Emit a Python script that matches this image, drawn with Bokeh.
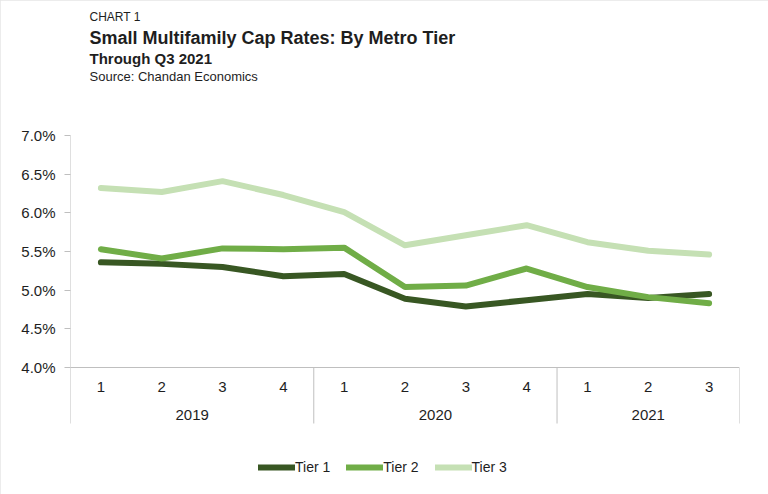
from bokeh.plotting import figure
from bokeh.models import (FactorRange, Range1d, FixedTicker, PrintfTickFormatter,
                          Legend, LegendItem, Title, ColumnDataSource, Span)
from bokeh.core.properties import value
from bokeh.embed import file_html
from bokeh.resources import INLINE

# data (cap rate, %)
years = ["2019", "2020", "2021"]
quarters = [["1", "2", "3", "4"], ["1", "2", "3", "4"], ["1", "2", "3"]]
tier1 = [5.36, 5.34, 5.30, 5.18, 5.21, 4.89, 4.79, 4.87, 4.95, 4.90, 4.95]
tier2 = [5.53, 5.41, 5.54, 5.53, 5.55, 5.04, 5.06, 5.28, 5.04, 4.91, 4.83]
tier3 = [6.32, 6.27, 6.41, 6.23, 6.01, 5.58, 5.71, 5.84, 5.62, 5.51, 5.46]
series_names = ["Tier 1", "Tier 2", "Tier 3"]
colors = ["#385723", "#70ad47", "#c5e0b4"]
y_ticks = [4.0, 4.5, 5.0, 5.5, 6.0, 6.5, 7.0]

FONT = "Liberation Sans"
GREY = "#bfbfbf"
TXT = "#1e1e1e"

factors = [(y, q) for y, qs in zip(years, quarters) for q in qs]
src = ColumnDataSource(dict(x=factors, t1=tier1, t2=tier2, t3=tier3))

# layout: 7.0% .. 4.0% spans 232 px, axis-label band below reaches 56 px further
FRAME_H = 355
px_per = 232 / (y_ticks[-1] - y_ticks[0])
y_lo = y_ticks[-1] - FRAME_H / px_per
sep_bottom = y_ticks[0] - 56 / px_per

p = figure(frame_width=669, frame_height=FRAME_H, output_backend="svg", toolbar_location=None,
           x_range=FactorRange(*factors, factor_padding=0, group_padding=0,
                               subgroup_padding=0, range_padding=0),
           y_range=Range1d(y_lo, y_ticks[-1]), x_axis_location=None,
           min_border_left=70, min_border_right=29, min_border_top=135,
           min_border_bottom=4,
           styles={"outline": "2px solid #e6e6e6", "outline-offset": "-2px"})
p.outline_line_color = None
p.xgrid.visible = False
p.ygrid.visible = False

# titles, stacked upward from the plot (the first one is an empty spacer)
for txt, size, style, so in [(" ", "13px", "normal", 35),
                             ("Source: Chandan Economics", "13px", "normal", 0),
                             ("Through Q3 2021", "15px", "bold", 0),
                             ("Small Multifamily Cap Rates: By Metro Tier", "18px", "bold", 0),
                             ("CHART 1", "12px", "normal", 4)]:
    p.add_layout(Title(text=txt, text_font=FONT, text_font_size=size,
                       text_font_style=style, text_color=TXT, align="left",
                       offset=19, standoff=so), "above")

# y axis (its line is drawn below as a segment so it runs down through the label band)
ya = p.yaxis[0]
ya.ticker = FixedTicker(ticks=y_ticks)
ya.formatter = PrintfTickFormatter(format="%.1f%%")
ya.axis_line_color = None
ya.major_tick_line_color = GREY
ya.major_tick_out = 6
ya.major_tick_in = 0
ya.minor_tick_line_color = None
ya.major_label_standoff = 9
ya.major_label_text_font = FONT
ya.major_label_text_font_size = "15px"
ya.major_label_text_color = TXT

# category axis: baseline at 4.0%, quarter and year labels, year separators
p.add_layout(Span(location=y_ticks[0], dimension="width", line_color=GREY, line_width=1))
bounds = [0]
for qs in quarters:
    bounds.append(bounds[-1] + len(qs))
p.segment(x0=bounds, y0=[y_ticks[-1]] + [y_ticks[0]] * (len(bounds) - 1), x1=bounds,
          y1=[sep_bottom] * len(bounds), line_color=GREY, line_width=1)

p.text(x=factors, y=[y_ticks[0]] * len(factors), text=[q for _, q in factors],
       y_offset=19, text_align="center", text_baseline="middle",
       text_font=value(FONT), text_font_size="15px", text_color=TXT)
year_mid = [(a + b) / 2 for a, b in zip(bounds[:-1], bounds[1:])]
p.text(x=year_mid, y=[y_ticks[0]] * len(years), text=years,
       y_offset=47, text_align="center", text_baseline="middle",
       text_font=value(FONT), text_font_size="15px", text_color=TXT)

renderers = []
for col, c in zip(["t1", "t2", "t3"], colors):
    r = p.line("x", col, source=src, line_color=c, line_width=6, line_cap="round",
               line_join="round")
    renderers.append(r)

legend = Legend(items=[LegendItem(label=n, renderers=[r]) for n, r in zip(series_names, renderers)],
                orientation="horizontal", location=(188, 15), glyph_width=37, glyph_height=16,
                label_standoff=0, spacing=16, padding=0, margin=0,
                border_line_color=None, background_fill_alpha=0,
                label_text_font=FONT, label_text_font_size="14px", label_text_color=TXT)
p.add_layout(legend)

open("out.html", "w").write(file_html(p, INLINE))
